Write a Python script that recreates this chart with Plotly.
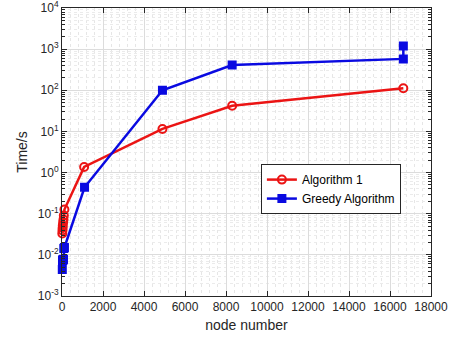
import plotly.graph_objects as go

# Data
alg1_x = [14, 24, 30, 39, 57, 73, 89, 118, 1080, 4900, 8300, 16650]
alg1_y = [0.033, 0.039, 0.045, 0.052, 0.062, 0.072, 0.09, 0.126, 1.37, 11.5, 42, 112]

greedy_x = [14, 24, 30, 39, 57, 73, 89, 118, 1100, 4900, 8300, 16650, 16650]
greedy_y = [0.0044, 0.0073, 0.0074, 0.0075, 0.0076, 0.0078, 0.0143, 0.0150, 0.44, 100, 410, 580, 1200]

x_ticks = [0, 2000, 4000, 6000, 8000, 10000, 12000, 14000, 16000, 18000]
y_exps = [-3, -2, -1, 0, 1, 2, 3, 4]

red = "rgb(235,20,20)"
blue = "rgb(10,10,225)"

fig = go.Figure()
fig.add_trace(go.Scatter(
    x=alg1_x, y=alg1_y, name="Algorithm 1", mode="lines+markers",
    line=dict(color=red, width=2.5),
    marker=dict(symbol="circle-open", size=8, color=red, line=dict(width=2, color=red)),
    cliponaxis=False,
))
fig.add_trace(go.Scatter(
    x=greedy_x, y=greedy_y, name="Greedy Algorithm", mode="lines+markers",
    line=dict(color=blue, width=2.5),
    marker=dict(symbol="square", size=7.5, color=blue, line=dict(width=1.5, color=blue)),
    cliponaxis=False,
))

axis_font = dict(family="Liberation Sans, Arial, sans-serif", size=12, color="#262626")

fig.update_layout(
    width=474, height=361,
    margin=dict(l=62, r=43, t=8, b=65, autoexpand=False),
    paper_bgcolor="white", plot_bgcolor="white",
    font=axis_font,
    showlegend=True,
    legend=dict(
        x=0.539, y=0.458, xanchor="left", yanchor="top",
        bgcolor="white", bordercolor="#262626", borderwidth=1,
        font=dict(family="Liberation Sans, Arial, sans-serif", size=12, color="black"),
        tracegroupgap=0, itemwidth=30,
    ),
)

fig.update_xaxes(
    range=[0, 18000], tickvals=x_ticks, ticktext=[str(v) for v in x_ticks],
    automargin=False, ticklabeloverflow="allow",
    showline=True, linecolor="#262626", linewidth=1, mirror="ticks",
    ticks="inside", ticklen=5, tickcolor="#262626",
    showgrid=True, gridcolor="#dcdcdc", gridwidth=1,
    minor=dict(dtick=400, showgrid=True, gridcolor="#e6e6e6", griddash="dot", ticks=""),
    zeroline=False,
    title=dict(text="node number", font=dict(size=14, color="#262626"), standoff=6),
    tickfont=axis_font,
)

fig.update_yaxes(
    type="log", range=[-3.0002, 4.0002],
    tickvals=[10 ** e for e in y_exps],
    ticktext=["10<sup>%d</sup>" % e for e in y_exps],
    automargin=False, ticklabeloverflow="allow",
    showline=True, linecolor="#262626", linewidth=1, mirror="ticks",
    ticks="inside", ticklen=5, tickcolor="#262626",
    showgrid=True, gridcolor="#dcdcdc", gridwidth=1,
    minor=dict(dtick="D1", showgrid=True, gridcolor="#ebebeb", griddash="dot",
               ticks="inside", ticklen=3, tickcolor="#262626"),
    zeroline=False,
    title=dict(text="Time/s", font=dict(size=14, color="#262626"), standoff=6),
    tickfont=axis_font,
)

fig.write_html("out.html", config={"displayModeBar": False},
               post_script="document.body.style.margin='0';")
